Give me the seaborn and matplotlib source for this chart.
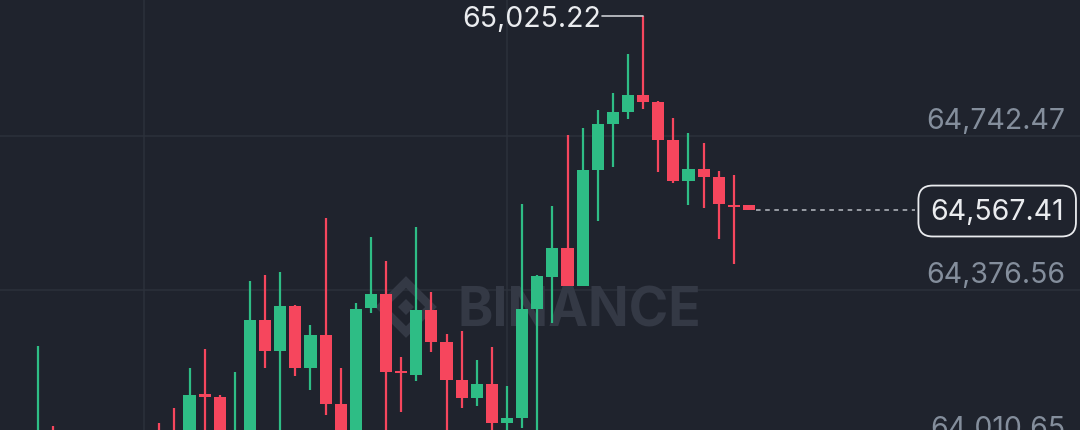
import numpy as np
import pandas as pd
import matplotlib
matplotlib.use('Agg')
import matplotlib.pyplot as plt
import matplotlib.patches as patches
import matplotlib.transforms as mtransforms
import seaborn as sns

# OHLC values (candles 2-7 sit below the visible area)
opens = [63950, 64010, 63970, 63910, 63950, 63930, 63990, 63960,
         64040, 64030, 63980, 64127.6, 64122.8, 64025, 64040, 64304.7,
         64231.9, 64339.3, 64192.3, 64269.1, 64105.5, 64030, 64333.2, 64367.1,
         64182.8, 64175.7, 64329.1, 64252.5, 64162.4, 64119.7, 64153.6, 64061.2,
         64073.7, 64331.5, 64408.1, 64475.5, 64386.8, 64661.1, 64769.5, 64798.0,
         64839.7, 64822.4, 64732.3, 64634.3, 64663.5, 64643.8, 64578.8, 64578.1]
highs = [64242.6, 64054.8, 64020, 63980, 64000, 64010, 64030, 64020,
         64061.2, 64096.0, 64191.6, 64236.6, 64127.6, 64182.8, 64398.6, 64412.1,
         64418.5, 64340.3, 64293.6, 64548.0, 64191.6, 64345.0, 64503.0, 64444.6,
         64217.0, 64525.3, 64372.5, 64271.5, 64278.6, 64210.6, 64242.1, 64148.9,
         64580.5, 64412.1, 64576.5, 64744.1, 64760.0, 64803.4, 64843.7, 64936.2,
         65025.22, 64824.8, 64783.7, 64748.9, 64724.5, 64658.1, 64649.3, 64578.1]
lows = [63920, 63940, 63890, 63860, 63900, 63880, 63940, 63920,
        63980, 63950, 63950, 64000, 64000, 63990, 64010, 64192.3,
        64030, 64173.3, 64139.4, 64080.1, 64000, 64010, 64321.3, 64020,
        64086.5, 64161.5, 64228.8, 64030, 64096.0, 64102.2, 64020, 64030,
        64048.6, 64030, 64298.3, 64385.3, 64385.0, 64540.9, 64669.0, 64782.1,
        64805.8, 64657.1, 64629.6, 64578.8, 64571.7, 64497.5, 64438.2, 64567.41]
closes = [64010, 63970, 63910, 63950, 63930, 63990, 63960, 64030,
          64010, 63980, 64127.6, 64124.0, 64030, 64040, 64304.7, 64231.9,
          64339.3, 64192.3, 64269.1, 64105.5, 64030, 64332.2, 64367.1, 64182.8,
          64180.0, 64329.1, 64252.5, 64163.1, 64119.7, 64153.6, 64061.2, 64073.7,
          64331.5, 64409.0, 64475.5, 64386.8, 64661.1, 64769.5, 64798.7, 64839.7,
          64823.1, 64732.3, 64634.3, 64663.5, 64643.8, 64579.8, 64572.7, 64567.41]

grid_prices = [64742.47, 64376.56, 64010.65]
grid_labels = ['64,742.47', '64,376.56', '64,010.65']
grid_candles = [7, 31]
max_label = '65,025.22'
last_price = 64567.41
last_label = '64,567.41'

bg = '#1f232d'
green = '#2ebd85'
red = '#f6465d'
grid_col = '#2c313b'
label_grey = '#848e9c'
white = '#eaecef'
mark_col = '#343945'

df = pd.DataFrame({'open': opens, 'high': highs, 'low': lows, 'close': closes})
df['idx'] = np.arange(len(df))
df['up'] = df['close'] >= df['open']
df['color'] = np.where(df['up'], green, red)
df['body_low'] = df[['open', 'close']].min(axis=1)
df['body_h'] = (df['close'] - df['open']).abs().clip(lower=5)

sns.set_theme(style='dark', rc={'axes.facecolor': bg, 'figure.facecolor': bg})
plt.rcParams['font.family'] = ['Inter', 'DejaVu Sans']

fig = plt.figure(figsize=(10.8, 4.31), dpi=100)
ax = fig.add_axes([0, 0, 1, 1])

# pixel layout of the original: candle 0 at x=38.3px, 15.12px per candle
step = 15.12
x0 = -38.3 / step
x1 = (1080 - 38.3) / step
ymin, ymax = 64044.6, 65066.6
ax.set_xlim(x0, x1)
ax.set_ylim(ymin, ymax)
upp = (ymax - ymin) / 431  # price per pixel

# gridlines
for p in grid_prices:
    ax.axhline(p, color=grid_col, lw=1.1, zorder=0)
for c in grid_candles:
    ax.axvline(c + 0.02, color=grid_col, lw=1.1, zorder=0)

# watermark
ax.text(579 / 1080, 1 - 312 / 431, 'BINANCE', transform=ax.transAxes,
        ha='center', va='center', fontsize=38.5, fontweight='bold',
        color=mark_col, zorder=0.5)
ax.add_patch(patches.RegularPolygon((406, 431 - 308), 4, radius=25,
                                    orientation=0, fill=False, lw=6,
                                    ec=mark_col, transform=None, zorder=0.5))
ax.add_patch(patches.RegularPolygon((406, 431 - 308), 4, radius=8,
                                    orientation=0, fc=mark_col, ec='none',
                                    transform=None, zorder=0.5))

# candles
ax.vlines(df['idx'], df['low'], df['high'], colors=df['color'], lw=1.6, zorder=2)
ax.bar(df['idx'], df['body_h'], bottom=df['body_low'], width=0.8,
       color=df['color'], linewidth=0, zorder=3)

# price axis labels
trans = mtransforms.blended_transform_factory(ax.transAxes, ax.transData)
for p, lab in zip(grid_prices, grid_labels):
    ax.text(1065 / 1080, p + 15.5 * upp, lab, transform=trans, ha='right',
            va='center', fontsize=20.5, color=label_grey, zorder=5)

# highest price marker
i_max = int(df['high'].idxmax())
hi = df.loc[i_max, 'high']
ax.plot([i_max - 2.7, i_max], [hi, hi], color='#c9ccd1', lw=1.2, zorder=4)
ax.text(i_max - 2.75, hi - 2 * upp, max_label, ha='right', va='center',
        fontsize=20.5, color=white, zorder=5)

# last price dashed line and box
box_left_x = x0 + (915 / 1080) * (x1 - x0)
ax.plot([df['idx'].iloc[-1] + 0.45, box_left_x], [last_price, last_price],
        color='#b8bcc4', lw=1.1, ls=(0, (3, 3)), zorder=4)
ax.text(1064 / 1080, last_price - 1.5 * upp, last_label, transform=trans,
        ha='right', va='center', fontsize=20.5, color=white, zorder=6,
        bbox=dict(boxstyle='round,pad=0.42,rounding_size=0.5', fc=bg,
                  ec=white, lw=1.3))

ax.set_xticks([])
ax.set_yticks([])
sns.despine(ax=ax, left=True, bottom=True)

fig.savefig('out.png', dpi=100, facecolor=bg)
